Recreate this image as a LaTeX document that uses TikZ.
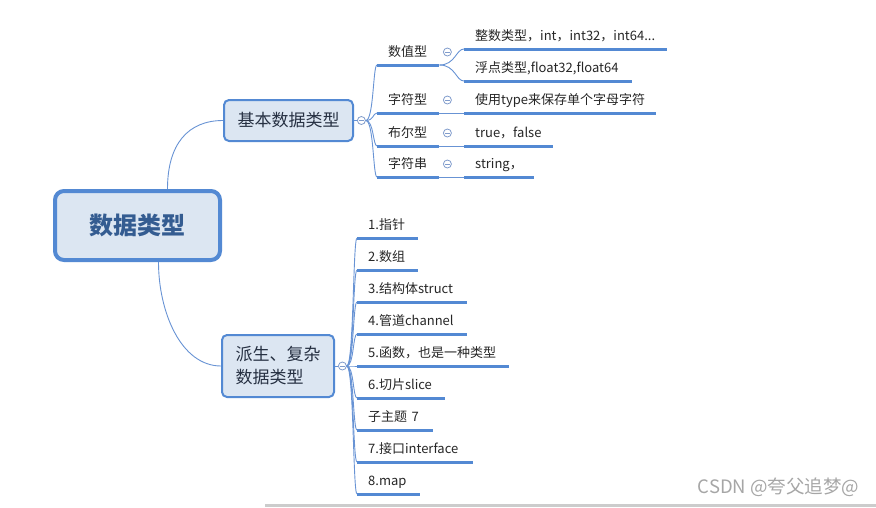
\documentclass[tikz,border=0pt]{standalone}
\usepackage{fontspec}
\setmainfont{Noto Sans CJK SC}
\usepackage{tikz}
\usetikzlibrary{calc}
\usepackage{xcolor}
\definecolor{mapblue}{RGB}{83,137,211}
\definecolor{mapfill}{RGB}{220,230,242}
\definecolor{linkblue}{RGB}{104,147,212}
\definecolor{rootink}{RGB}{52,92,145}
\definecolor{boxink}{RGB}{38,48,66}
\definecolor{foldgray}{RGB}{128,156,204}

\tikzset{
  topic/.style={draw=mapblue, line width=2pt, fill=mapfill, rounded corners=5pt, text=boxink, font=\fontsize{17}{23}\selectfont},
  leaf/.style={anchor=south west, align=left, inner xsep=11pt, inner ysep=8pt, text depth=0pt, text width=#1, font=\fontsize{13}{16}\selectfont, text=black!85},
  uline/.style={draw=mapblue, line width=3pt},
  link/.style={draw=linkblue, line width=0.9pt},
  fold/.style={circle, draw=foldgray, fill=white, line width=0.8pt, minimum size=8pt, inner sep=0pt,
    path picture={\draw[foldgray, line width=0.8pt] ([xshift=-2.2pt]path picture bounding box.center) -- ([xshift=2.2pt]path picture bounding box.center);}}
}

\begin{document}
\begin{tikzpicture}[x=1pt, y=-1pt]
  \useasboundingbox (0,0) rectangle (876,507);

  % --- Central topic ---
  \node[draw=mapblue, line width=4pt, fill=mapfill, rounded corners=9pt, minimum width=165pt, minimum height=69pt, font=\bfseries\fontsize{24}{28}\selectfont, text=rootink] (root) at (137.5,225.5) {数据类型};

  % --- Main topics ---
  \node[topic, minimum width=129pt, minimum height=41pt] (basic) at (288.5,120.5) {基本数据类型};
  \node[topic, minimum width=112pt, minimum height=62pt, align=left] (derived) at (278,366) {派生、复杂\\数据类型};
  \node[fold, anchor=west] (hubBasic) at ([xshift=3pt]basic.east) {};
  \node[fold, anchor=west] (hubDerived) at ([xshift=3pt]derived.east) {};

  \draw[link] ([xshift=30pt]root.north) .. controls +(0,-45) and +(-35,0) .. (basic.west);
  \draw[link] ([xshift=21pt]root.south) .. controls +(0,50) and +(-40,0) .. (derived.west);
  \draw[link] (basic.east) -- (hubBasic.west);
  \draw[link] (derived.east) -- (hubDerived.west);

  % --- Basic types ---
  \node[leaf=40pt] (num) at (377,65) {数值型};
  \node[leaf=40pt] (chr) at (377,113) {字符型};
  \node[leaf=40pt] (bool) at (377,146) {布尔型};
  \node[leaf=40pt] (str) at (377,177) {字符串};

  \node[leaf=181pt] (numInt) at (464,49) {整数类型，int，int32，int64...};
  \node[leaf=146pt] (numFloat) at (464,81) {浮点类型,float32,float64};
  \node[leaf=170pt] (chrType) at (464,113) {使用type来保存单个字母字符};
  \node[leaf=67pt] (boolVal) at (464,146) {true，false};
  \node[leaf=48pt] (strVal) at (464,177) {string，};

  \foreach \leafname in {num,chr,bool,str}{
    \draw[link] (hubBasic.east) .. controls +(8,0) and +(-4,0) .. (\leafname.south west);
    \node[fold] (fold-\leafname) at ($(\leafname.south east)+(8,-13)$) {};
  }
  \draw[link] (num.south east) .. controls +(16,0) and +(-8,0) .. (numInt.south west);
  \draw[link] (num.south east) .. controls +(16,0) and +(-8,0) .. (numFloat.south west);
  \draw[link] (chr.south east) -- (chrType.south west);
  \draw[link] (bool.south east) -- (boolVal.south west);
  \draw[link] (str.south east) -- (strVal.south west);

  % --- Derived types ---
  \node[leaf=39pt] (ptr) at (357,238) {1.指针};
  \node[leaf=39pt] (arr) at (357,270) {2.数组};
  \node[leaf=88pt] (strct) at (357,302) {3.结构体struct};
  \node[leaf=88pt] (chan) at (357,334) {4.管道channel};
  \node[leaf=130pt] (func) at (357,366) {5.函数，也是一种类型};
  \node[leaf=66pt] (slc) at (357,398) {6.切片slice};
  \node[leaf=54pt] (sub7) at (357,430) {子主题~7};
  \node[leaf=94pt] (iface) at (357,462) {7.接口interface};
  \node[leaf=41pt] (mapn) at (357,494) {8.map};

  \foreach \leafname in {ptr,arr,strct,chan,func,slc,sub7,iface,mapn}
    \draw[link] (hubDerived.east) .. controls +(7,0) and +(-4,0) .. (\leafname.south west);

  % underlines on top of the links
  \foreach \leafname in {num,chr,bool,str,numInt,numFloat,chrType,boolVal,strVal,ptr,arr,strct,chan,func,slc,sub7,iface,mapn}
    \draw[uline] (\leafname.south west) -- (\leafname.south east);

  % --- Watermark and scroll bar ---
  \node[anchor=east, text=black!35, font=\fontsize{18.5}{20}\selectfont] (mark) at (863,487) {CSDN @夸父追梦@};
  \fill[black!20] (265,504) rectangle (876,507);
\end{tikzpicture}
\end{document}
